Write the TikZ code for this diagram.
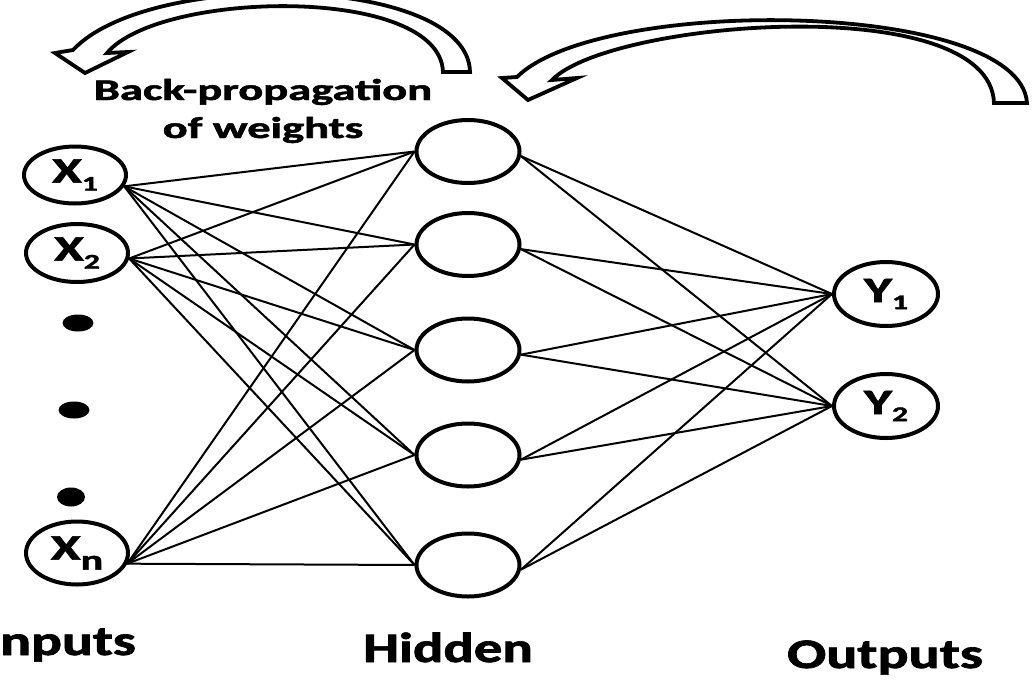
\documentclass[tikz,border=0pt]{standalone}
\usepackage{fontspec}
\setmainfont{Carlito}[BoldFeatures={FakeBold=1.6}]
\usepackage{graphicx}
\usetikzlibrary{shapes.geometric}
\newcommand\nlab[3]{\scalebox{1.5}[1]{\fontsize{36}{36}\selectfont\bfseries #1\raisebox{#3}{\fontsize{21}{21}\selectfont #2}}}
\begin{document}
\begin{tikzpicture}[x=1pt,y=-1pt,
  neuron/.style={draw, ellipse, line width=4pt, inner sep=0pt, minimum width=102pt, minimum height=62pt, fill=white},
  dotnode/.style={fill, ellipse, inner sep=0pt, minimum width=31pt, minimum height=17pt},
  wire/.style={line width=2pt},
  bigarrow/.style={draw, line width=3.8pt, fill=white, line join=miter},
  lbl/.style={inner sep=0pt, anchor=base, font=\bfseries}
]
\useasboundingbox (0,0) rectangle (1036,683);

% back-propagation arrows
\draw[bigarrow] (470,72) .. controls (468,-25) and (150,-32) .. (73,50)
  -- (55,53) -- (85,73) -- (128,52) -- (107,53)
  .. controls (160,-10) and (440,-15) .. (443,72) -- cycle;
\draw[bigarrow] (1027,103) .. controls (1020,0) and (600,-5) .. (517,77)
  -- (502,78) -- (528,100) -- (577,78) -- (552,80)
  .. controls (610,20) and (990,-10) .. (994,103) -- cycle;

% input layer
\node[neuron, minimum height=57pt] (x1) at (75,175) {\nlab{X}{1}{-8pt}};
\node[neuron, minimum height=58pt] (x2) at (77,253) {\nlab{X}{2}{-8pt}};
\node[dotnode] (d1) at (78,323) {};
\node[dotnode] (d2) at (74,410) {};
\node[dotnode, minimum width=28pt, minimum height=19pt] (d3) at (71,497) {};
\node[neuron, minimum height=63pt] (xn) at (77,553) {\scalebox{1.5}[1]{\fontsize{36}{36}\selectfont\bfseries X\raisebox{-10pt}{\fontsize{28}{28}\selectfont n}}};

% hidden layer
\foreach \i/\yy in {1/151.5,2/244.5,3/350,4/455,5/565}
  \node[neuron, minimum width=103pt, minimum height=63pt] (h\i) at (468,\yy) {};

% output layer
\node[neuron, minimum width=104pt, minimum height=64pt] (y1) at (886,294) {\nlab{Y}{1}{-7pt}};
\node[neuron, minimum width=104pt, minimum height=64pt] (y2) at (886,406) {\nlab{Y}{2}{-7pt}};

% connections
\foreach \i in {1,...,5} {
  \draw[wire] (x1.-13) -- (h\i.west);
  \draw[wire] (x2.-6) -- (h\i.west);
  \draw[wire] (xn.-12) -- (h\i.west);
  \draw[wire] (h\i.-5) -- (y1.west);
  \draw[wire] (h\i.-5) -- (y2.west);
}

% labels
\node[lbl] (bp1) at (263,100) {\scalebox{1.55}[1]{\fontsize{30}{30}\selectfont Back-propagation}};
\node[lbl] (bp2) at (263,138) {\scalebox{1.55}[1]{\fontsize{30}{30}\selectfont of weights}};
\node[lbl, anchor=base west] (inp) at (0,655) {\scalebox{1.37}[1]{\fontsize{42}{42}\selectfont nputs}};
\node[lbl] (hid) at (448,662) {\scalebox{1.35}[1]{\fontsize{42}{42}\selectfont Hidden}};
\node[lbl] (out) at (885,668) {\scalebox{1.38}[1]{\fontsize{42}{42}\selectfont Outputs}};
\end{tikzpicture}
\end{document}
